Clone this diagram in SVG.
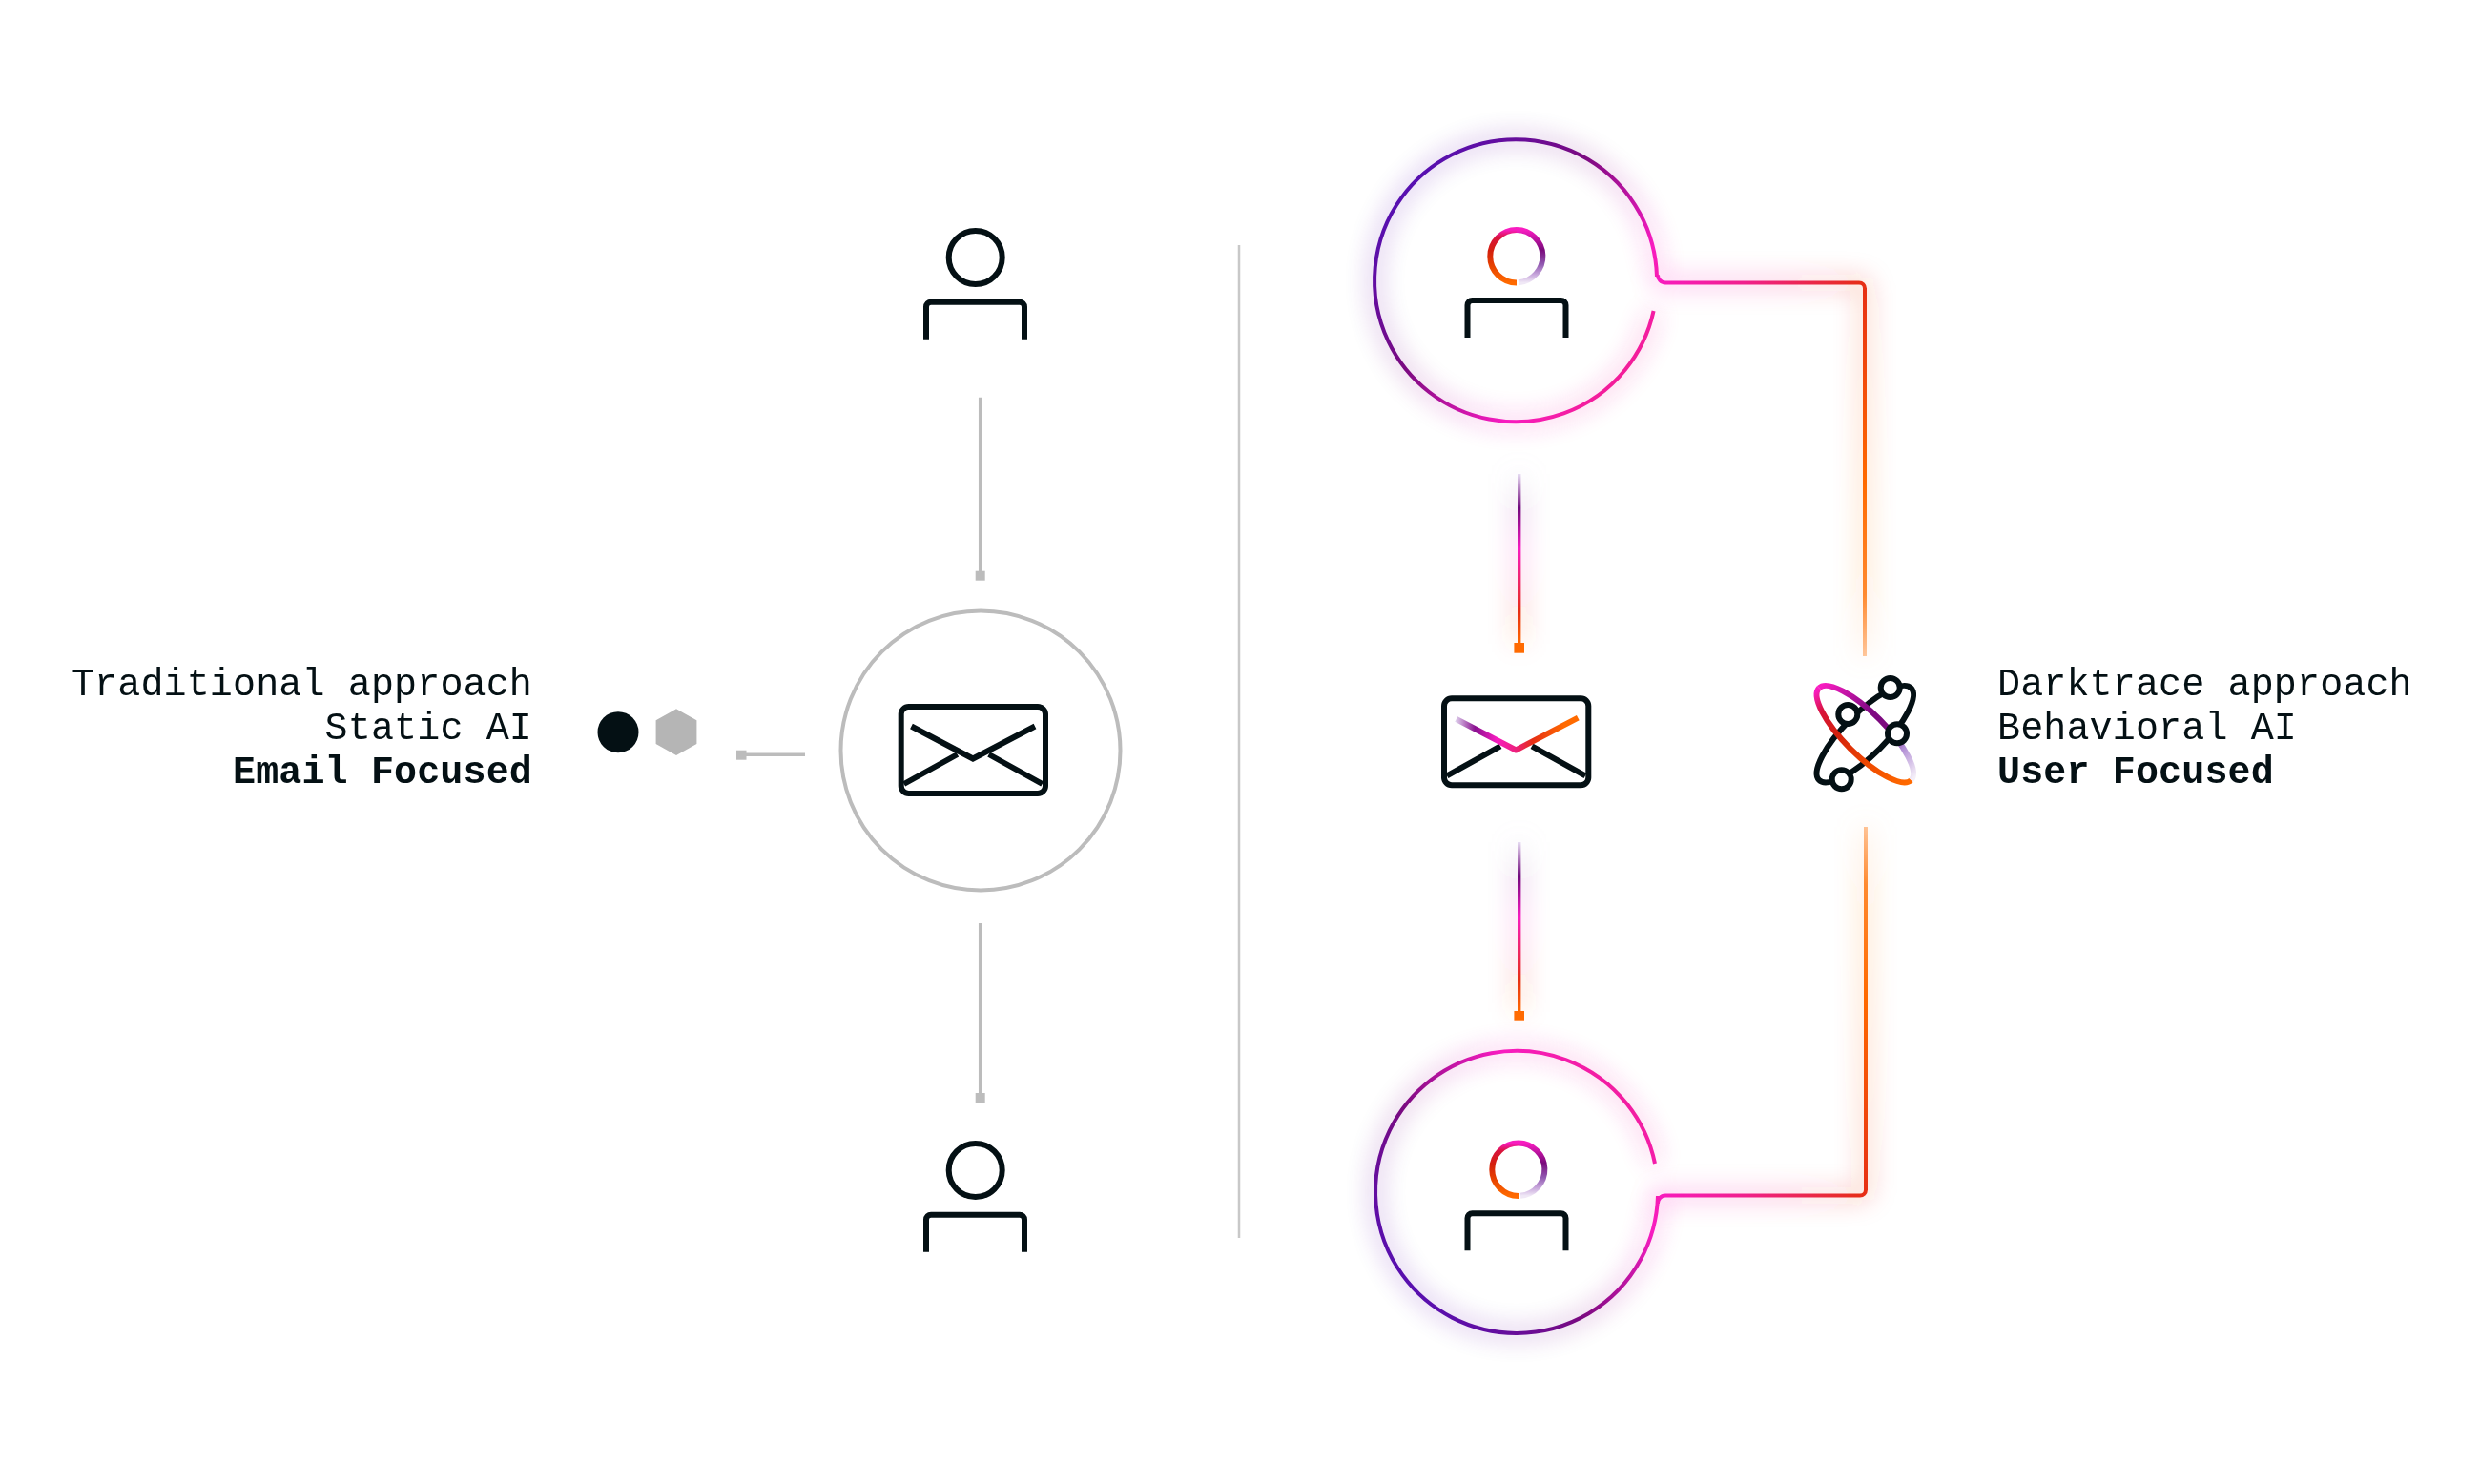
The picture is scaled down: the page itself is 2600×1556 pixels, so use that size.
<svg xmlns="http://www.w3.org/2000/svg" width="2600" height="1556" viewBox="0 0 2600 1556">
<style>
.ink{fill:none;stroke:#041014;stroke-width:6}
.grey{fill:none;stroke:#bcbcbc;stroke-width:3.5}
.sq{fill:#bcbcbc}
.lab{font-family:"Liberation Mono","DejaVu Sans Mono",monospace;font-size:40px;fill:#041014;letter-spacing:.15px}
.b{font-weight:700}
.thin{fill:none;stroke-width:4}
.glow{fill:none;stroke-width:10;opacity:.3}
.node{fill:#fff;stroke:#041014;stroke-width:6}
</style>
<defs>
<filter id="blur" filterUnits="userSpaceOnUse" x="0" y="0" width="2600" height="1556"><feGaussianBlur stdDeviation="13"/></filter>
<linearGradient id="ringTop" gradientUnits="userSpaceOnUse" x1="1470" y1="190" x2="1730" y2="410">
<stop offset="0" stop-color="#5410b4"/><stop offset=".38" stop-color="#7a0a80"/><stop offset=".72" stop-color="#f81cc0"/><stop offset="1" stop-color="#f01e84"/></linearGradient>
<linearGradient id="ringBot" gradientUnits="userSpaceOnUse" x1="1470" y1="1360" x2="1730" y2="1140">
<stop offset="0" stop-color="#5410b4"/><stop offset=".38" stop-color="#7a0a80"/><stop offset=".72" stop-color="#f81cc0"/><stop offset="1" stop-color="#f01e94"/></linearGradient>
<linearGradient id="connTop" gradientUnits="userSpaceOnUse" x1="1737" y1="296" x2="2059" y2="564">
<stop offset="0" stop-color="#f81cc0"/><stop offset=".17" stop-color="#f0208c"/><stop offset=".4" stop-color="#e62e14"/><stop offset=".72" stop-color="#ff6a00"/><stop offset=".9" stop-color="#ff8a30"/><stop offset="1" stop-color="#ffc79c"/></linearGradient>
<linearGradient id="connBot" gradientUnits="userSpaceOnUse" x1="1737" y1="1254" x2="2059" y2="986">
<stop offset="0" stop-color="#f81cc0"/><stop offset=".17" stop-color="#f0208c"/><stop offset=".4" stop-color="#e62e14"/><stop offset=".72" stop-color="#ff6a00"/><stop offset=".9" stop-color="#ff8a30"/><stop offset="1" stop-color="#ffc79c"/></linearGradient>
<linearGradient id="v1" gradientUnits="userSpaceOnUse" x1="0" y1="497" x2="0" y2="675">
<stop offset="0" stop-color="#e6dcf2"/><stop offset=".2" stop-color="#70087c"/><stop offset=".44" stop-color="#f81cc0"/><stop offset=".81" stop-color="#e62e14"/><stop offset="1" stop-color="#ff6a00"/></linearGradient>
<linearGradient id="v2" gradientUnits="userSpaceOnUse" x1="0" y1="883" x2="0" y2="1061">
<stop offset="0" stop-color="#e6dcf2"/><stop offset=".2" stop-color="#70087c"/><stop offset=".44" stop-color="#f81cc0"/><stop offset=".81" stop-color="#e62e14"/><stop offset="1" stop-color="#ff6a00"/></linearGradient>
<linearGradient id="headL" x1="0" y1="0" x2="0" y2="1">
<stop offset="0" stop-color="#f81cc0"/><stop offset=".15" stop-color="#d8143c"/><stop offset=".4" stop-color="#d4200c"/><stop offset=".7" stop-color="#e84400"/><stop offset="1" stop-color="#ff6a00"/></linearGradient>
<linearGradient id="headR" x1="0" y1="0" x2="0" y2="1">
<stop offset="0" stop-color="#f81cc0"/><stop offset=".38" stop-color="#7a0a7c"/><stop offset=".65" stop-color="#9058b0"/><stop offset=".85" stop-color="#c8a8dc"/><stop offset="1" stop-color="#f0e8f6"/></linearGradient>
<linearGradient id="flap" gradientUnits="userSpaceOnUse" x1="1526" y1="0" x2="1654" y2="0">
<stop offset="0" stop-color="#e0d4ee"/><stop offset=".16" stop-color="#8a1090"/><stop offset=".34" stop-color="#f81cc0"/><stop offset=".5" stop-color="#ec2078"/><stop offset=".63" stop-color="#e62e14"/><stop offset=".89" stop-color="#ff6a00"/></linearGradient>
<linearGradient id="atomL" gradientUnits="userSpaceOnUse" x1="1907" y1="721.4" x2="2003.6" y2="818">
<stop offset="0" stop-color="#f81cc0"/><stop offset=".14" stop-color="#d8143c"/><stop offset=".35" stop-color="#d4200c"/><stop offset=".7" stop-color="#f04c00"/><stop offset="1" stop-color="#ff6a00"/></linearGradient>
<linearGradient id="atomR" gradientUnits="userSpaceOnUse" x1="1907" y1="721.4" x2="2003.6" y2="818">
<stop offset="0" stop-color="#f81cc0"/><stop offset=".4" stop-color="#800a84"/><stop offset=".62" stop-color="#7a0a7c"/><stop offset=".78" stop-color="#b08cd4"/><stop offset="1" stop-color="#f4eef8"/></linearGradient>
<g id="personBody"><path class="ink" d="M971 355.7V321.7a5 5 0 0 1 5-5H1069a5 5 0 0 1 5 5V355.7"/></g>
<g id="gradHead"><path d="M1590 296.4A27.7 27.7 0 0 1 1590 241" fill="none" stroke="url(#headL)" stroke-width="6"/><path d="M1590 241A27.7 27.7 0 0 1 1592 296.3" fill="none" stroke="url(#headR)" stroke-width="6"/></g>
<g id="env"><rect class="ink" x="0" y="0" width="151.3" height="91" rx="8"/><path class="ink" d="M3 81L59 50M148 81L92 50"/></g>
<path id="arcTop" d="M1737 290A148 148 0 1 0 1733.6 326"/>
<path id="arcBot" d="M1738 1254A148 148 0 1 1 1735 1220"/>
<path id="connT" d="M1738 288A8 8 0 0 0 1746 296.5H1949a6 6 0 0 1 6 6V688"/>
<path id="connB" d="M1738 1262A8 8 0 0 1 1746 1253.5H1950a6 6 0 0 0 6-6V867"/>
</defs>
<rect width="2600" height="1556" fill="#fff"/>
<line id="divider" x1="1299" y1="257" x2="1299" y2="1298" stroke="#c8c8c8" stroke-width="2.5"/>
<g id="connectors">
<path class="grey" d="M1027.7 416.7V600"/><rect class="sq" x="1022.7" y="598.7" width="10" height="10"/>
<path class="grey" d="M1027.7 968V1148"/><rect class="sq" x="1022.7" y="1146" width="10" height="10"/>
<path class="grey" d="M844 791.3H775"/><rect class="sq" x="772" y="786.7" width="10.5" height="10"/>
<g filter="url(#blur)"><use href="#connT" class="glow" stroke="url(#connTop)"/><use href="#connB" class="glow" stroke="url(#connBot)"/>
<path class="glow" stroke="url(#v1)" d="M1592.7 497V675" stroke-opacity=".8"/><path class="glow" stroke="url(#v2)" d="M1592.7 883V1061" stroke-opacity=".8"/></g>
<use href="#connT" class="thin" stroke="url(#connTop)"/>
<use href="#connB" class="thin" stroke="url(#connBot)"/>
<path d="M1592.7 497V675" fill="none" stroke="url(#v1)" stroke-width="3.4"/><rect x="1587.4" y="674" width="10.6" height="10.7" fill="#ff6a00"/>
<path d="M1592.7 883V1061" fill="none" stroke="url(#v2)" stroke-width="3.4"/><rect x="1587.4" y="1060" width="10.6" height="10.7" fill="#ff6a00"/>
</g>
<g id="label-left">
<text class="lab" x="558" y="729.3" text-anchor="end">Traditional approach</text>
<text class="lab" x="558" y="775" text-anchor="end">Static AI</text>
<text class="lab b" x="558" y="820.7" text-anchor="end">Email Focused</text>
</g>
<g id="legend">
<circle cx="648" cy="767.7" r="21.5" fill="#041014"/>
<path d="M709 743.3L730.4 755.3V780.1L709 792.1L687.6 780.1V755.3Z" fill="#b5b5b5"/>
</g>
<g id="user-left-top">
<circle class="ink" cx="1022.7" cy="270" r="28"/>
<use href="#personBody"/>
</g>
<g id="email-left">
<circle cx="1028" cy="787" r="146.5" fill="none" stroke="#bcbcbc" stroke-width="4"/>
<use href="#env" x="944.7" y="741"/>
<path class="ink" d="M955.5 761.5L1020 795.5L1085 761.5"/>
</g>
<g id="user-left-bottom">
<circle class="ink" cx="1022.7" cy="1227" r="28"/>
<use href="#personBody" y="957"/>
</g>
<g id="user-right-top">
<use href="#arcTop" class="glow" stroke="url(#ringTop)" filter="url(#blur)"/>
<use href="#arcTop" class="thin" stroke="url(#ringTop)"/>
<use href="#gradHead" y="0"/>
<use href="#personBody" x="567.5" y="-1.7"/>
</g>
<g id="email-right">
<use href="#env" x="1514" y="732.3"/>
<path d="M1526.7 754L1589.3 786.5L1654.3 752.7" fill="none" stroke="url(#flap)" stroke-width="6" stroke-linejoin="round"/>
</g>
<g id="atom">
<ellipse cx="1955.3" cy="769.7" rx="68.3" ry="21.7" transform="rotate(-45 1955.3 769.7)" fill="none" stroke="#041014" stroke-width="6"/>
<path d="M1907 721.4A68.3 21.7 45 0 0 2003.6 818" fill="none" stroke="url(#atomL)" stroke-width="6"/>
<path d="M1907 721.4A68.3 21.7 45 0 1 2003.6 818" fill="none" stroke="url(#atomR)" stroke-width="6"/>
<circle class="node" cx="1981.7" cy="721" r="10"/>
<circle class="node" cx="1937.3" cy="749" r="10"/>
<circle class="node" cx="1989" cy="769.3" r="10"/>
<circle class="node" cx="1930.7" cy="817.3" r="10"/>
</g>
<g id="label-right">
<text class="lab" x="2094" y="729.3">Darktrace approach</text>
<text class="lab" x="2094" y="775">Behavioral AI</text>
<text class="lab b" x="2094" y="820.7">User Focused</text>
</g>
<g id="user-right-bottom">
<use href="#arcBot" class="glow" stroke="url(#ringBot)" filter="url(#blur)"/>
<use href="#arcBot" class="thin" stroke="url(#ringBot)"/>
<use href="#gradHead" x="2" y="957.5"/>
<use href="#personBody" x="567.5" y="955.5"/>
</g>
</svg>
